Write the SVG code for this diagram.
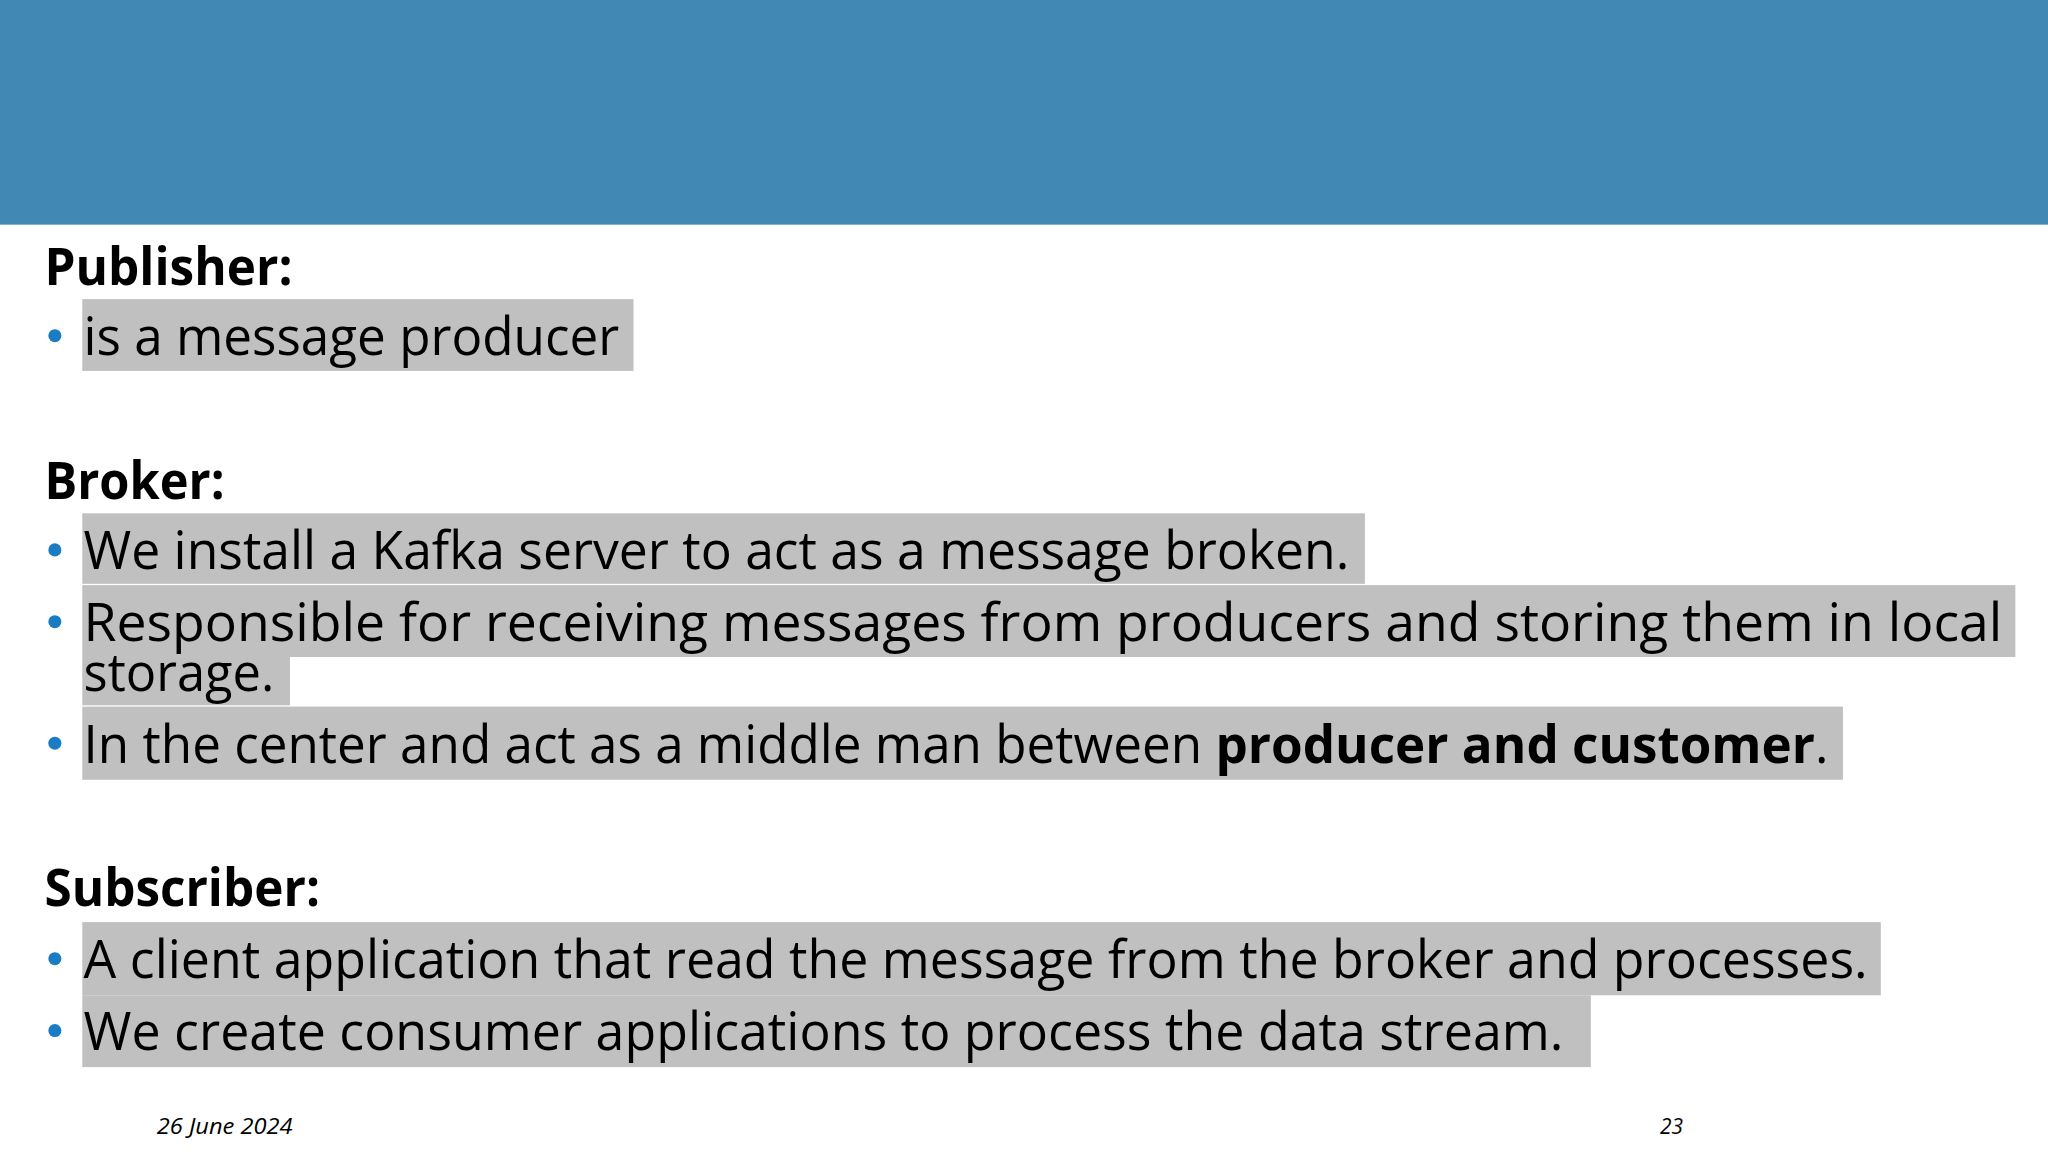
<svg xmlns="http://www.w3.org/2000/svg" width="2048" height="1152" viewBox="0 0 2048 1152">
<style>
.t{font-family:"Open Sans","Noto Sans",sans-serif;font-size:40px;fill:#000}
.h{font-family:"Open Sans","Noto Sans",sans-serif;font-size:40px;font-weight:bold;fill:#000}
.hl{fill:#c0c0c0}
.b{fill:#1a7dc4}
.f{font-family:"Open Sans","Noto Sans",sans-serif;font-size:16px;font-style:italic;fill:#000}
</style>
<rect width="2048" height="1152" fill="#fff"/>
<g transform="scale(1.30612)">
<rect x="0" y="0" width="1568" height="172" fill="#4189b4"/>
<g id="highlights">
<rect class="hl" x="63" y="229" width="422" height="55"/>
<rect class="hl" x="63" y="393" width="982" height="54"/>
<rect class="hl" x="63" y="448" width="1480" height="55"/>
<rect class="hl" x="63" y="503" width="159" height="37"/>
<rect class="hl" x="63" y="541" width="1348" height="56"/>
<rect class="hl" x="63" y="706" width="1377" height="56"/>
<rect class="hl" x="63" y="762" width="1155" height="55"/>
</g>
<g id="bullets">
<circle class="b" cx="42" cy="257" r="5"/>
<circle class="b" cx="42" cy="421" r="5"/>
<circle class="b" cx="42" cy="476" r="5"/>
<circle class="b" cx="42" cy="569" r="5"/>
<circle class="b" cx="42" cy="734" r="5"/>
<circle class="b" cx="42" cy="789" r="5"/>
</g>
<g id="text">
<text class="h" x="34" y="218" textLength="190" lengthAdjust="spacingAndGlyphs">Publisher:</text>
<text class="t" x="64" y="272" textLength="410" lengthAdjust="spacingAndGlyphs">is a message producer</text>
<text class="h" x="34" y="382" textLength="138" lengthAdjust="spacingAndGlyphs">Broker:</text>
<text class="t" x="64" y="436" textLength="969" lengthAdjust="spacingAndGlyphs">We install a Kafka server to act as a message broken.</text>
<text class="t" x="64" y="491" textLength="1469" lengthAdjust="spacingAndGlyphs">Responsible for receiving messages from producers and storing them in local</text>
<text class="t" x="64" y="529" textLength="146" lengthAdjust="spacingAndGlyphs">storage.</text>
<text class="t" x="64" y="584" textLength="1336" lengthAdjust="spacingAndGlyphs">In the center and act as a middle man between <tspan font-weight="bold">producer and customer</tspan>.</text>
<text class="h" x="34" y="694" textLength="211" lengthAdjust="spacingAndGlyphs">Subscriber:</text>
<text class="t" x="64" y="749" textLength="1366" lengthAdjust="spacingAndGlyphs">A client application that read the message from the broker and processes.</text>
<text class="t" x="64" y="804" textLength="1133" lengthAdjust="spacingAndGlyphs">We create consumer applications to process the data stream.</text>
<text class="f" x="120" y="868" textLength="104" lengthAdjust="spacingAndGlyphs">26 June 2024</text>
<text class="f" x="1271" y="868">23</text>
</g>
</g>
</svg>
